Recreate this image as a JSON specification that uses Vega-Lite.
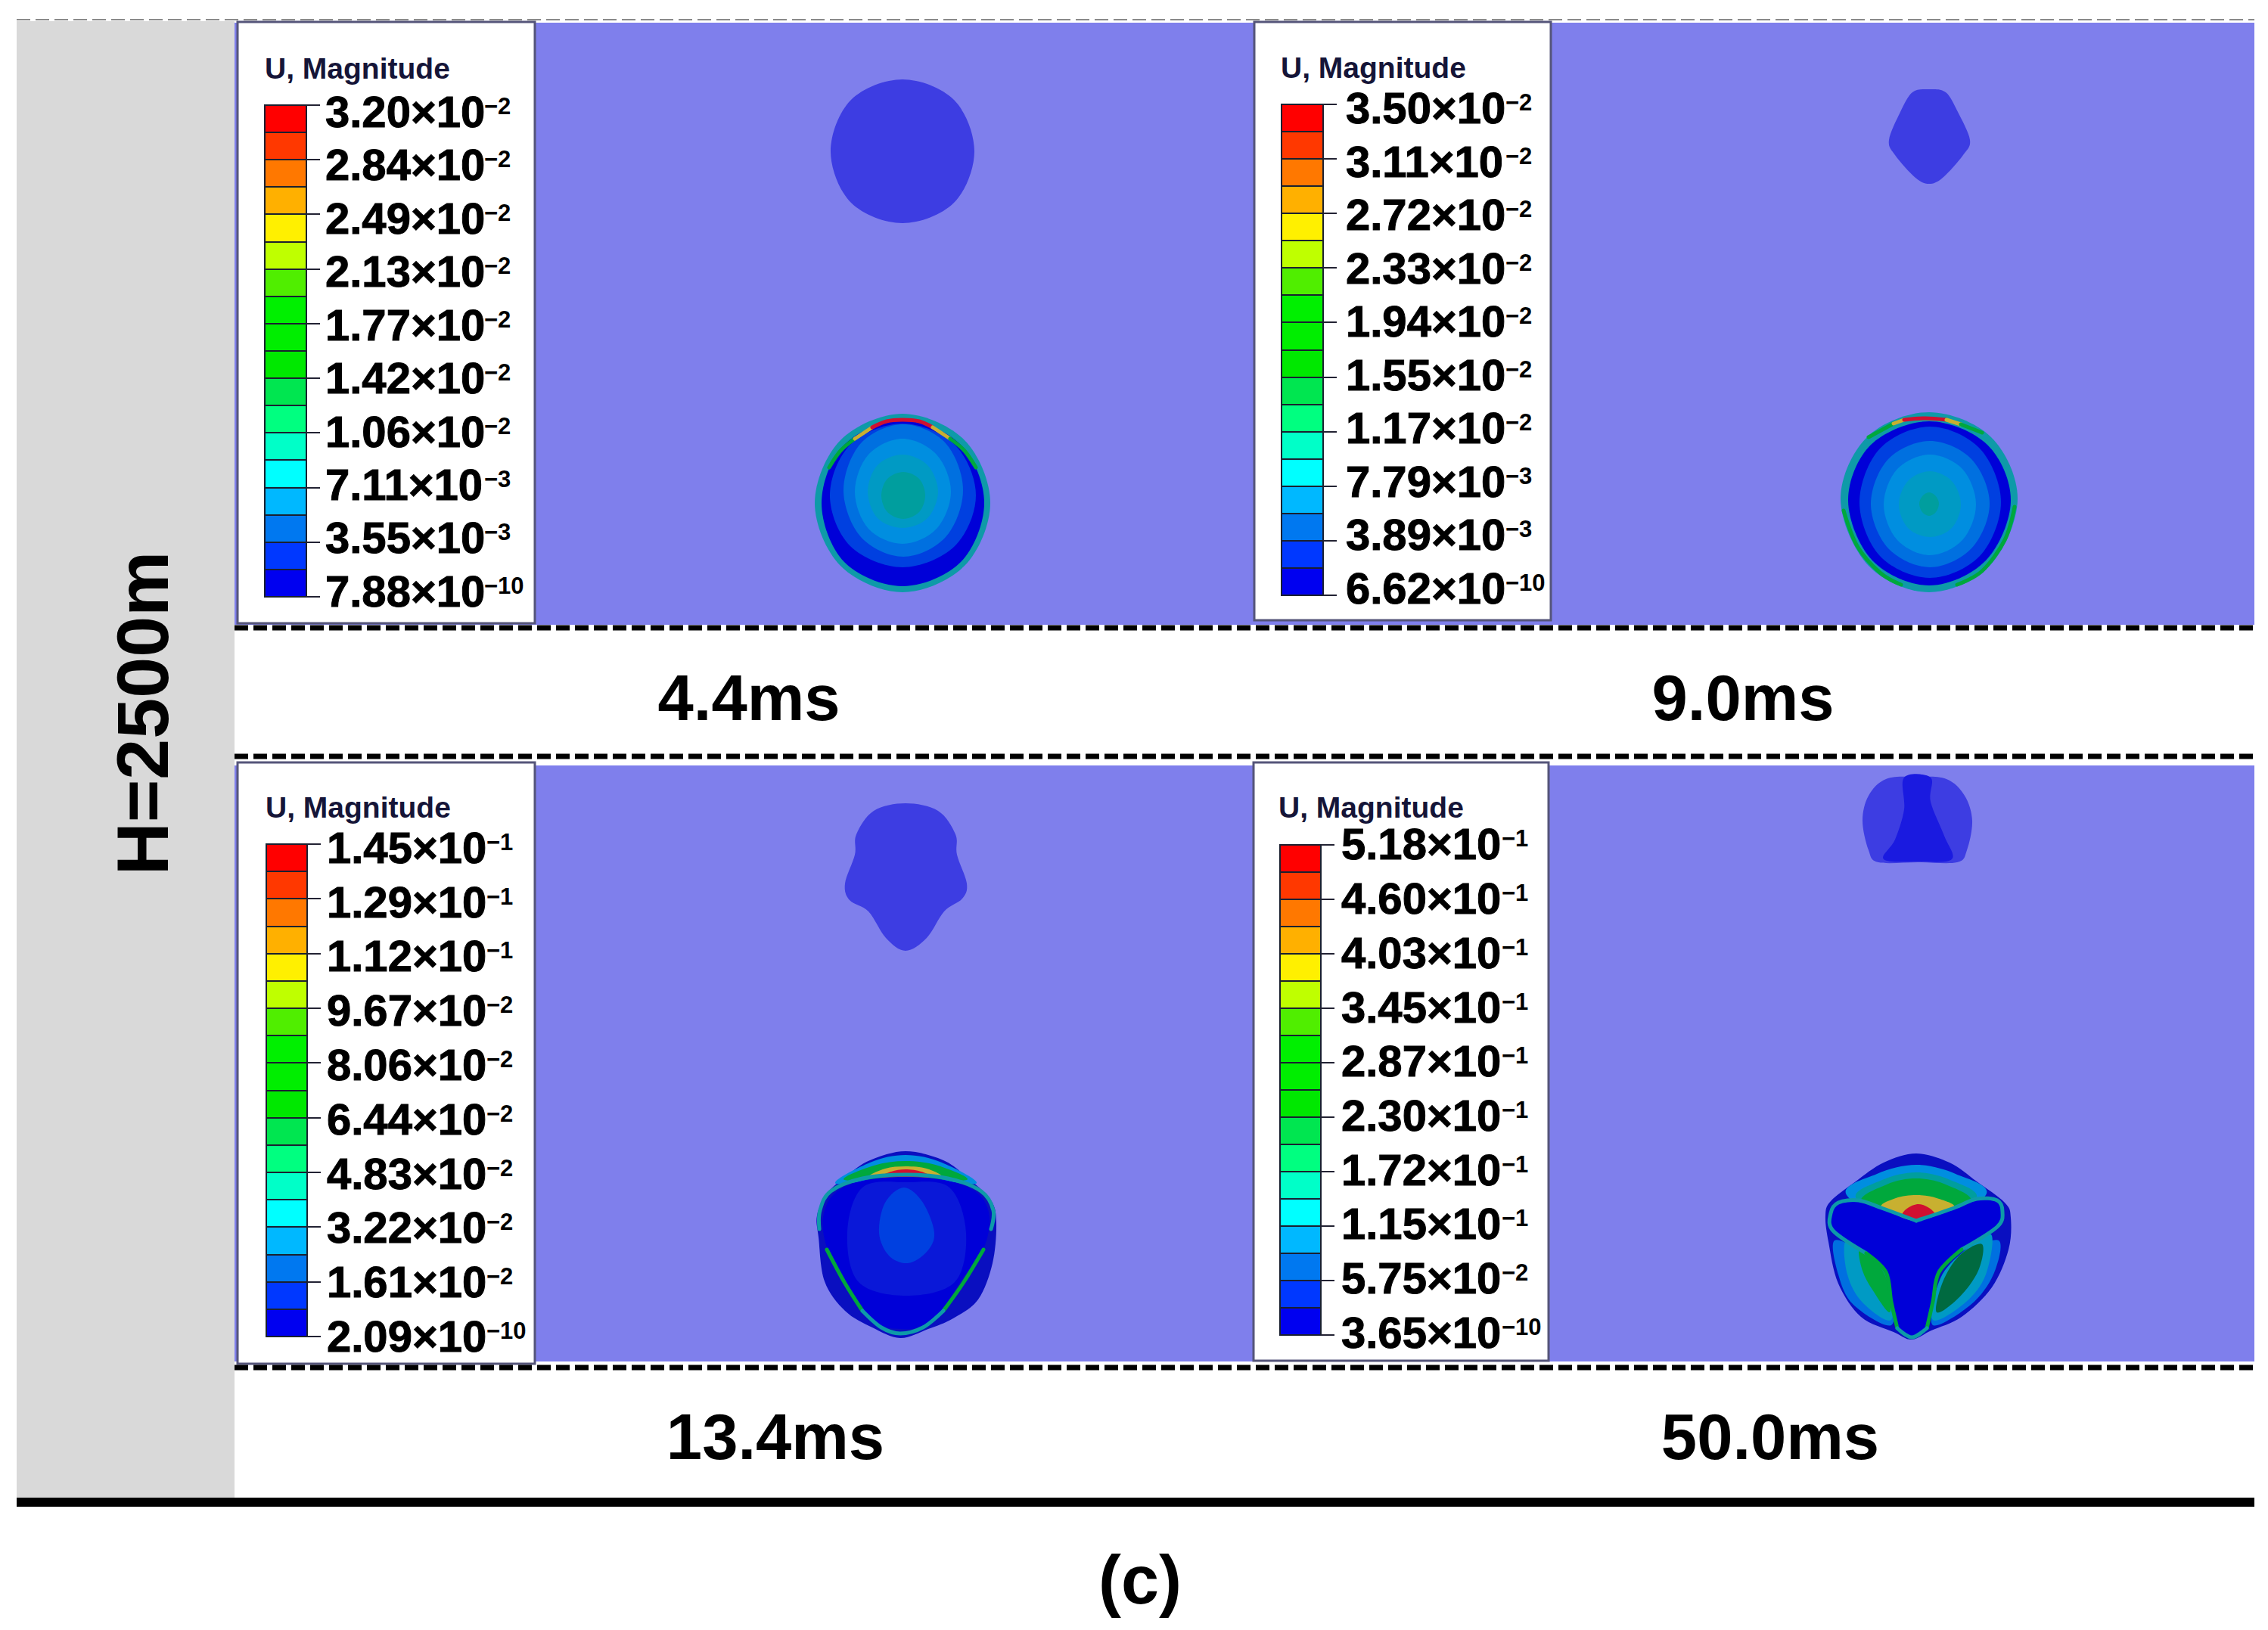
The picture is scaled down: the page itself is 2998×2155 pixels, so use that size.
{
  "$schema": "https://vega.github.io/schema/vega-lite/v6.json",
  "width": 2998,
  "height": 2155,
  "autosize": {"type": "fit", "contains": "padding"},
  "padding": 0,
  "background": "white",
  "config": {"view": {"stroke": null}},
  "datasets": {
    "blocks": [
      {"c": "side", "x": 22, "x2": 310, "y": 28, "y2": 1980},
      {"c": "field", "x": 310, "x2": 2980, "y": 30, "y2": 826},
      {"c": "field", "x": 310, "x2": 2980, "y": 1012, "y2": 1800},
      {"c": "ink", "x": 22, "x2": 2980, "y": 1980, "y2": 1992}
    ],
    "boxes": [
      {"x": 314, "x2": 707, "y": 29, "y2": 824},
      {"x": 1658, "x2": 2050, "y": 29, "y2": 820},
      {"x": 314, "x2": 707, "y": 1008, "y2": 1803},
      {"x": 1657, "x2": 2047, "y": 1008, "y2": 1799}
    ],
    "bands": [
      {"c": "b0", "x": 350, "x2": 405, "y": 139, "y2": 175},
      {"c": "b1", "x": 350, "x2": 405, "y": 175, "y2": 211},
      {"c": "b2", "x": 350, "x2": 405, "y": 211, "y2": 247},
      {"c": "b3", "x": 350, "x2": 405, "y": 247, "y2": 283},
      {"c": "b4", "x": 350, "x2": 405, "y": 283, "y2": 320},
      {"c": "b5", "x": 350, "x2": 405, "y": 320, "y2": 356},
      {"c": "b6", "x": 350, "x2": 405, "y": 356, "y2": 392},
      {"c": "b7", "x": 350, "x2": 405, "y": 392, "y2": 428},
      {"c": "b8", "x": 350, "x2": 405, "y": 428, "y2": 464},
      {"c": "b9", "x": 350, "x2": 405, "y": 464, "y2": 500},
      {"c": "b10", "x": 350, "x2": 405, "y": 500, "y2": 536},
      {"c": "b11", "x": 350, "x2": 405, "y": 536, "y2": 572},
      {"c": "b12", "x": 350, "x2": 405, "y": 572, "y2": 608},
      {"c": "b13", "x": 350, "x2": 405, "y": 608, "y2": 645},
      {"c": "b14", "x": 350, "x2": 405, "y": 645, "y2": 681},
      {"c": "b15", "x": 350, "x2": 405, "y": 681, "y2": 717},
      {"c": "b16", "x": 350, "x2": 405, "y": 717, "y2": 753},
      {"c": "b17", "x": 350, "x2": 405, "y": 753, "y2": 789},
      {"c": "b0", "x": 1694, "x2": 1749, "y": 138, "y2": 174},
      {"c": "b1", "x": 1694, "x2": 1749, "y": 174, "y2": 210},
      {"c": "b2", "x": 1694, "x2": 1749, "y": 210, "y2": 246},
      {"c": "b3", "x": 1694, "x2": 1749, "y": 246, "y2": 282},
      {"c": "b4", "x": 1694, "x2": 1749, "y": 282, "y2": 318},
      {"c": "b5", "x": 1694, "x2": 1749, "y": 318, "y2": 354},
      {"c": "b6", "x": 1694, "x2": 1749, "y": 354, "y2": 390},
      {"c": "b7", "x": 1694, "x2": 1749, "y": 390, "y2": 426},
      {"c": "b8", "x": 1694, "x2": 1749, "y": 426, "y2": 463},
      {"c": "b9", "x": 1694, "x2": 1749, "y": 463, "y2": 499},
      {"c": "b10", "x": 1694, "x2": 1749, "y": 499, "y2": 535},
      {"c": "b11", "x": 1694, "x2": 1749, "y": 535, "y2": 571},
      {"c": "b12", "x": 1694, "x2": 1749, "y": 571, "y2": 607},
      {"c": "b13", "x": 1694, "x2": 1749, "y": 607, "y2": 643},
      {"c": "b14", "x": 1694, "x2": 1749, "y": 643, "y2": 679},
      {"c": "b15", "x": 1694, "x2": 1749, "y": 679, "y2": 715},
      {"c": "b16", "x": 1694, "x2": 1749, "y": 715, "y2": 751},
      {"c": "b17", "x": 1694, "x2": 1749, "y": 751, "y2": 787},
      {"c": "b0", "x": 352, "x2": 406, "y": 1116, "y2": 1152},
      {"c": "b1", "x": 352, "x2": 406, "y": 1152, "y2": 1188},
      {"c": "b2", "x": 352, "x2": 406, "y": 1188, "y2": 1225},
      {"c": "b3", "x": 352, "x2": 406, "y": 1225, "y2": 1261},
      {"c": "b4", "x": 352, "x2": 406, "y": 1261, "y2": 1297},
      {"c": "b5", "x": 352, "x2": 406, "y": 1297, "y2": 1333},
      {"c": "b6", "x": 352, "x2": 406, "y": 1333, "y2": 1369},
      {"c": "b7", "x": 352, "x2": 406, "y": 1369, "y2": 1405},
      {"c": "b8", "x": 352, "x2": 406, "y": 1405, "y2": 1442},
      {"c": "b9", "x": 352, "x2": 406, "y": 1442, "y2": 1478},
      {"c": "b10", "x": 352, "x2": 406, "y": 1478, "y2": 1514},
      {"c": "b11", "x": 352, "x2": 406, "y": 1514, "y2": 1550},
      {"c": "b12", "x": 352, "x2": 406, "y": 1550, "y2": 1586},
      {"c": "b13", "x": 352, "x2": 406, "y": 1586, "y2": 1622},
      {"c": "b14", "x": 352, "x2": 406, "y": 1622, "y2": 1659},
      {"c": "b15", "x": 352, "x2": 406, "y": 1659, "y2": 1695},
      {"c": "b16", "x": 352, "x2": 406, "y": 1695, "y2": 1731},
      {"c": "b17", "x": 352, "x2": 406, "y": 1731, "y2": 1767},
      {"c": "b0", "x": 1692, "x2": 1746, "y": 1117, "y2": 1153},
      {"c": "b1", "x": 1692, "x2": 1746, "y": 1153, "y2": 1189},
      {"c": "b2", "x": 1692, "x2": 1746, "y": 1189, "y2": 1225},
      {"c": "b3", "x": 1692, "x2": 1746, "y": 1225, "y2": 1261},
      {"c": "b4", "x": 1692, "x2": 1746, "y": 1261, "y2": 1297},
      {"c": "b5", "x": 1692, "x2": 1746, "y": 1297, "y2": 1333},
      {"c": "b6", "x": 1692, "x2": 1746, "y": 1333, "y2": 1369},
      {"c": "b7", "x": 1692, "x2": 1746, "y": 1369, "y2": 1405},
      {"c": "b8", "x": 1692, "x2": 1746, "y": 1405, "y2": 1441},
      {"c": "b9", "x": 1692, "x2": 1746, "y": 1441, "y2": 1477},
      {"c": "b10", "x": 1692, "x2": 1746, "y": 1477, "y2": 1513},
      {"c": "b11", "x": 1692, "x2": 1746, "y": 1513, "y2": 1549},
      {"c": "b12", "x": 1692, "x2": 1746, "y": 1549, "y2": 1585},
      {"c": "b13", "x": 1692, "x2": 1746, "y": 1585, "y2": 1621},
      {"c": "b14", "x": 1692, "x2": 1746, "y": 1621, "y2": 1657},
      {"c": "b15", "x": 1692, "x2": 1746, "y": 1657, "y2": 1693},
      {"c": "b16", "x": 1692, "x2": 1746, "y": 1693, "y2": 1729},
      {"c": "b17", "x": 1692, "x2": 1746, "y": 1729, "y2": 1765}
    ],
    "labels": [
      {"m": "3.20×10", "e": "−2", "x": 430, "ex": 640, "y": 168, "tx": 405, "tx2": 423, "ty": 139},
      {"m": "2.84×10", "e": "−2", "x": 430, "ex": 640, "y": 238, "tx": 405, "tx2": 423, "ty": 211},
      {"m": "2.49×10", "e": "−2", "x": 430, "ex": 640, "y": 309, "tx": 405, "tx2": 423, "ty": 283},
      {"m": "2.13×10", "e": "−2", "x": 430, "ex": 640, "y": 379, "tx": 405, "tx2": 423, "ty": 356},
      {"m": "1.77×10", "e": "−2", "x": 430, "ex": 640, "y": 450, "tx": 405, "tx2": 423, "ty": 428},
      {"m": "1.42×10", "e": "−2", "x": 430, "ex": 640, "y": 520, "tx": 405, "tx2": 423, "ty": 500},
      {"m": "1.06×10", "e": "−2", "x": 430, "ex": 640, "y": 591, "tx": 405, "tx2": 423, "ty": 572},
      {"m": "7.11×10", "e": "−3", "x": 430, "ex": 640, "y": 661, "tx": 405, "tx2": 423, "ty": 645},
      {"m": "3.55×10", "e": "−3", "x": 430, "ex": 640, "y": 731, "tx": 405, "tx2": 423, "ty": 717},
      {"m": "7.88×10", "e": "−10", "x": 430, "ex": 640, "y": 802, "tx": 405, "tx2": 423, "ty": 789},
      {"m": "3.50×10", "e": "−2", "x": 1779, "ex": 1990, "y": 163, "tx": 1749, "tx2": 1767, "ty": 138},
      {"m": "3.11×10", "e": "−2", "x": 1779, "ex": 1990, "y": 234, "tx": 1749, "tx2": 1767, "ty": 210},
      {"m": "2.72×10", "e": "−2", "x": 1779, "ex": 1990, "y": 304, "tx": 1749, "tx2": 1767, "ty": 282},
      {"m": "2.33×10", "e": "−2", "x": 1779, "ex": 1990, "y": 375, "tx": 1749, "tx2": 1767, "ty": 354},
      {"m": "1.94×10", "e": "−2", "x": 1779, "ex": 1990, "y": 445, "tx": 1749, "tx2": 1767, "ty": 426},
      {"m": "1.55×10", "e": "−2", "x": 1779, "ex": 1990, "y": 516, "tx": 1749, "tx2": 1767, "ty": 499},
      {"m": "1.17×10", "e": "−2", "x": 1779, "ex": 1990, "y": 586, "tx": 1749, "tx2": 1767, "ty": 571},
      {"m": "7.79×10", "e": "−3", "x": 1779, "ex": 1990, "y": 657, "tx": 1749, "tx2": 1767, "ty": 643},
      {"m": "3.89×10", "e": "−3", "x": 1779, "ex": 1990, "y": 727, "tx": 1749, "tx2": 1767, "ty": 715},
      {"m": "6.62×10", "e": "−10", "x": 1779, "ex": 1990, "y": 798, "tx": 1749, "tx2": 1767, "ty": 787},
      {"m": "1.45×10", "e": "−1", "x": 432, "ex": 643, "y": 1141, "tx": 406, "tx2": 424, "ty": 1116},
      {"m": "1.29×10", "e": "−1", "x": 432, "ex": 643, "y": 1213, "tx": 406, "tx2": 424, "ty": 1188},
      {"m": "1.12×10", "e": "−1", "x": 432, "ex": 643, "y": 1284, "tx": 406, "tx2": 424, "ty": 1261},
      {"m": "9.67×10", "e": "−2", "x": 432, "ex": 643, "y": 1356, "tx": 406, "tx2": 424, "ty": 1333},
      {"m": "8.06×10", "e": "−2", "x": 432, "ex": 643, "y": 1428, "tx": 406, "tx2": 424, "ty": 1405},
      {"m": "6.44×10", "e": "−2", "x": 432, "ex": 643, "y": 1500, "tx": 406, "tx2": 424, "ty": 1478},
      {"m": "4.83×10", "e": "−2", "x": 432, "ex": 643, "y": 1572, "tx": 406, "tx2": 424, "ty": 1550},
      {"m": "3.22×10", "e": "−2", "x": 432, "ex": 643, "y": 1643, "tx": 406, "tx2": 424, "ty": 1622},
      {"m": "1.61×10", "e": "−2", "x": 432, "ex": 643, "y": 1715, "tx": 406, "tx2": 424, "ty": 1695},
      {"m": "2.09×10", "e": "−10", "x": 432, "ex": 643, "y": 1787, "tx": 406, "tx2": 424, "ty": 1767},
      {"m": "5.18×10", "e": "−1", "x": 1773, "ex": 1985, "y": 1136, "tx": 1746, "tx2": 1764, "ty": 1117},
      {"m": "4.60×10", "e": "−1", "x": 1773, "ex": 1985, "y": 1208, "tx": 1746, "tx2": 1764, "ty": 1189},
      {"m": "4.03×10", "e": "−1", "x": 1773, "ex": 1985, "y": 1280, "tx": 1746, "tx2": 1764, "ty": 1261},
      {"m": "3.45×10", "e": "−1", "x": 1773, "ex": 1985, "y": 1352, "tx": 1746, "tx2": 1764, "ty": 1333},
      {"m": "2.87×10", "e": "−1", "x": 1773, "ex": 1985, "y": 1423, "tx": 1746, "tx2": 1764, "ty": 1405},
      {"m": "2.30×10", "e": "−1", "x": 1773, "ex": 1985, "y": 1495, "tx": 1746, "tx2": 1764, "ty": 1477},
      {"m": "1.72×10", "e": "−1", "x": 1773, "ex": 1985, "y": 1567, "tx": 1746, "tx2": 1764, "ty": 1549},
      {"m": "1.15×10", "e": "−1", "x": 1773, "ex": 1985, "y": 1638, "tx": 1746, "tx2": 1764, "ty": 1621},
      {"m": "5.75×10", "e": "−2", "x": 1773, "ex": 1985, "y": 1710, "tx": 1746, "tx2": 1764, "ty": 1693},
      {"m": "3.65×10", "e": "−10", "x": 1773, "ex": 1985, "y": 1782, "tx": 1746, "tx2": 1764, "ty": 1765}
    ],
    "titles": [
      {"t": "U, Magnitude", "x": 350, "y": 104},
      {"t": "U, Magnitude", "x": 1693, "y": 103},
      {"t": "U, Magnitude", "x": 351, "y": 1081},
      {"t": "U, Magnitude", "x": 1690, "y": 1081}
    ],
    "times": [
      {"t": "4.4ms", "x": 990, "y": 952},
      {"t": "9.0ms", "x": 2304, "y": 952},
      {"t": "13.4ms", "x": 1025, "y": 1929},
      {"t": "50.0ms", "x": 2340, "y": 1929}
    ],
    "seps": [
      {"x": 310, "x2": 2980, "y": 830},
      {"x": 310, "x2": 2980, "y": 1000},
      {"x": 310, "x2": 2980, "y": 1808}
    ],
    "shapes": [
      {"s": "a0", "c": "halo", "x": 1193, "y": 105}, {"s": "a0", "c": "halo", "x": 1261, "y": 132}, {"s": "a0", "c": "halo", "x": 1288, "y": 200}, {"s": "a0", "c": "halo", "x": 1261, "y": 268}, {"s": "a0", "c": "halo", "x": 1193, "y": 295}, {"s": "a0", "c": "halo", "x": 1125, "y": 268}, {"s": "a0", "c": "halo", "x": 1098, "y": 200}, {"s": "a0", "c": "halo", "x": 1125, "y": 132},
      {"s": "a1", "c": "ring", "x": 1193, "y": 547}, {"s": "a1", "c": "ring", "x": 1275, "y": 582}, {"s": "a1", "c": "ring", "x": 1309, "y": 665}, {"s": "a1", "c": "ring", "x": 1275, "y": 748}, {"s": "a1", "c": "ring", "x": 1193, "y": 783}, {"s": "a1", "c": "ring", "x": 1111, "y": 748}, {"s": "a1", "c": "ring", "x": 1077, "y": 665}, {"s": "a1", "c": "ring", "x": 1111, "y": 582},
      {"s": "a2", "c": "t0", "x": 1193, "y": 556}, {"s": "a2", "c": "t0", "x": 1270, "y": 588}, {"s": "a2", "c": "t0", "x": 1301, "y": 665}, {"s": "a2", "c": "t0", "x": 1270, "y": 743}, {"s": "a2", "c": "t0", "x": 1193, "y": 775}, {"s": "a2", "c": "t0", "x": 1116, "y": 743}, {"s": "a2", "c": "t0", "x": 1086, "y": 665}, {"s": "a2", "c": "t0", "x": 1116, "y": 588},
      {"s": "a3", "c": "t1", "x": 1193, "y": 560}, {"s": "a3", "c": "t1", "x": 1262, "y": 588}, {"s": "a3", "c": "t1", "x": 1290, "y": 655}, {"s": "a3", "c": "t1", "x": 1262, "y": 722}, {"s": "a3", "c": "t1", "x": 1193, "y": 750}, {"s": "a3", "c": "t1", "x": 1124, "y": 722}, {"s": "a3", "c": "t1", "x": 1097, "y": 655}, {"s": "a3", "c": "t1", "x": 1124, "y": 588},
      {"s": "a4", "c": "t2", "x": 1194, "y": 561}, {"s": "a4", "c": "t2", "x": 1250, "y": 586}, {"s": "a4", "c": "t2", "x": 1273, "y": 648}, {"s": "a4", "c": "t2", "x": 1250, "y": 710}, {"s": "a4", "c": "t2", "x": 1194, "y": 736}, {"s": "a4", "c": "t2", "x": 1138, "y": 710}, {"s": "a4", "c": "t2", "x": 1115, "y": 648}, {"s": "a4", "c": "t2", "x": 1138, "y": 586},
      {"s": "a5", "c": "t3", "x": 1193, "y": 580}, {"s": "a5", "c": "t3", "x": 1238, "y": 601}, {"s": "a5", "c": "t3", "x": 1257, "y": 650}, {"s": "a5", "c": "t3", "x": 1238, "y": 699}, {"s": "a5", "c": "t3", "x": 1193, "y": 719}, {"s": "a5", "c": "t3", "x": 1148, "y": 699}, {"s": "a5", "c": "t3", "x": 1130, "y": 650}, {"s": "a5", "c": "t3", "x": 1148, "y": 601},
      {"s": "a6", "c": "t4", "x": 1193, "y": 601}, {"s": "a6", "c": "t4", "x": 1226, "y": 615}, {"s": "a6", "c": "t4", "x": 1240, "y": 650}, {"s": "a6", "c": "t4", "x": 1226, "y": 685}, {"s": "a6", "c": "t4", "x": 1193, "y": 698}, {"s": "a6", "c": "t4", "x": 1160, "y": 685}, {"s": "a6", "c": "t4", "x": 1147, "y": 650}, {"s": "a6", "c": "t4", "x": 1160, "y": 615},
      {"s": "a7", "c": "t5", "x": 1194, "y": 624}, {"s": "a7", "c": "t5", "x": 1215, "y": 633}, {"s": "a7", "c": "t5", "x": 1223, "y": 655}, {"s": "a7", "c": "t5", "x": 1215, "y": 677}, {"s": "a7", "c": "t5", "x": 1194, "y": 686}, {"s": "a7", "c": "t5", "x": 1173, "y": 677}, {"s": "a7", "c": "t5", "x": 1165, "y": 655}, {"s": "a7", "c": "t5", "x": 1173, "y": 633},

      {"s": "b0", "c": "halo", "x": 2550, "y": 118}, {"s": "b0", "c": "halo", "x": 2572, "y": 122}, {"s": "b0", "c": "halo", "x": 2588, "y": 148}, {"s": "b0", "c": "halo", "x": 2604, "y": 185}, {"s": "b0", "c": "halo", "x": 2595, "y": 205}, {"s": "b0", "c": "halo", "x": 2568, "y": 235}, {"s": "b0", "c": "halo", "x": 2550, "y": 243}, {"s": "b0", "c": "halo", "x": 2532, "y": 235}, {"s": "b0", "c": "halo", "x": 2505, "y": 205}, {"s": "b0", "c": "halo", "x": 2497, "y": 185}, {"s": "b0", "c": "halo", "x": 2512, "y": 148}, {"s": "b0", "c": "halo", "x": 2528, "y": 122},
      {"s": "b1", "c": "ring", "x": 2550, "y": 545}, {"s": "b1", "c": "ring", "x": 2632, "y": 578}, {"s": "b1", "c": "ring", "x": 2667, "y": 660}, {"s": "b1", "c": "ring", "x": 2630, "y": 748}, {"s": "b1", "c": "ring", "x": 2550, "y": 783}, {"s": "b1", "c": "ring", "x": 2470, "y": 748}, {"s": "b1", "c": "ring", "x": 2433, "y": 660}, {"s": "b1", "c": "ring", "x": 2468, "y": 578},
      {"s": "b2", "c": "t0", "x": 2550, "y": 557}, {"s": "b2", "c": "t0", "x": 2627, "y": 588}, {"s": "b2", "c": "t0", "x": 2658, "y": 662}, {"s": "b2", "c": "t0", "x": 2625, "y": 741}, {"s": "b2", "c": "t0", "x": 2550, "y": 774}, {"s": "b2", "c": "t0", "x": 2475, "y": 741}, {"s": "b2", "c": "t0", "x": 2443, "y": 662}, {"s": "b2", "c": "t0", "x": 2473, "y": 588},
      {"s": "b3", "c": "t1", "x": 2551, "y": 564}, {"s": "b3", "c": "t1", "x": 2617, "y": 593}, {"s": "b3", "c": "t1", "x": 2645, "y": 664}, {"s": "b3", "c": "t1", "x": 2617, "y": 735}, {"s": "b3", "c": "t1", "x": 2551, "y": 764}, {"s": "b3", "c": "t1", "x": 2485, "y": 735}, {"s": "b3", "c": "t1", "x": 2458, "y": 664}, {"s": "b3", "c": "t1", "x": 2485, "y": 593},
      {"s": "b4", "c": "t2", "x": 2551, "y": 583}, {"s": "b4", "c": "t2", "x": 2606, "y": 607}, {"s": "b4", "c": "t2", "x": 2630, "y": 666}, {"s": "b4", "c": "t2", "x": 2606, "y": 725}, {"s": "b4", "c": "t2", "x": 2551, "y": 750}, {"s": "b4", "c": "t2", "x": 2496, "y": 725}, {"s": "b4", "c": "t2", "x": 2473, "y": 666}, {"s": "b4", "c": "t2", "x": 2496, "y": 607},
      {"s": "b5", "c": "t3", "x": 2551, "y": 601}, {"s": "b5", "c": "t3", "x": 2594, "y": 620}, {"s": "b5", "c": "t3", "x": 2612, "y": 667}, {"s": "b5", "c": "t3", "x": 2594, "y": 714}, {"s": "b5", "c": "t3", "x": 2551, "y": 734}, {"s": "b5", "c": "t3", "x": 2508, "y": 714}, {"s": "b5", "c": "t3", "x": 2490, "y": 667}, {"s": "b5", "c": "t3", "x": 2508, "y": 620},
      {"s": "b6", "c": "t4", "x": 2551, "y": 623}, {"s": "b6", "c": "t4", "x": 2580, "y": 636}, {"s": "b6", "c": "t4", "x": 2592, "y": 667}, {"s": "b6", "c": "t4", "x": 2580, "y": 698}, {"s": "b6", "c": "t4", "x": 2551, "y": 710}, {"s": "b6", "c": "t4", "x": 2522, "y": 698}, {"s": "b6", "c": "t4", "x": 2510, "y": 667}, {"s": "b6", "c": "t4", "x": 2522, "y": 636},
      {"s": "b7", "c": "t5", "x": 2550, "y": 651}, {"s": "b7", "c": "t5", "x": 2559, "y": 656}, {"s": "b7", "c": "t5", "x": 2563, "y": 666}, {"s": "b7", "c": "t5", "x": 2559, "y": 677}, {"s": "b7", "c": "t5", "x": 2550, "y": 682}, {"s": "b7", "c": "t5", "x": 2541, "y": 677}, {"s": "b7", "c": "t5", "x": 2537, "y": 666}, {"s": "b7", "c": "t5", "x": 2541, "y": 656},

      {"s": "c0", "c": "halo", "x": 1197, "y": 1062}, {"s": "c0", "c": "halo", "x": 1240, "y": 1072}, {"s": "c0", "c": "halo", "x": 1263, "y": 1103}, {"s": "c0", "c": "halo", "x": 1265, "y": 1130}, {"s": "c0", "c": "halo", "x": 1278, "y": 1168}, {"s": "c0", "c": "halo", "x": 1272, "y": 1188}, {"s": "c0", "c": "halo", "x": 1248, "y": 1205}, {"s": "c0", "c": "halo", "x": 1225, "y": 1240}, {"s": "c0", "c": "halo", "x": 1197, "y": 1257}, {"s": "c0", "c": "halo", "x": 1171, "y": 1240}, {"s": "c0", "c": "halo", "x": 1148, "y": 1205}, {"s": "c0", "c": "halo", "x": 1123, "y": 1190}, {"s": "c0", "c": "halo", "x": 1117, "y": 1168}, {"s": "c0", "c": "halo", "x": 1130, "y": 1130}, {"s": "c0", "c": "halo", "x": 1132, "y": 1103}, {"s": "c0", "c": "halo", "x": 1155, "y": 1072},
      {"s": "c1", "c": "tdark", "x": 1197, "y": 1522}, {"s": "c1", "c": "tdark", "x": 1247, "y": 1534}, {"s": "c1", "c": "tdark", "x": 1280, "y": 1558}, {"s": "c1", "c": "tdark", "x": 1310, "y": 1587}, {"s": "c1", "c": "tdark", "x": 1317, "y": 1617}, {"s": "c1", "c": "tdark", "x": 1312, "y": 1670}, {"s": "c1", "c": "tdark", "x": 1293, "y": 1718}, {"s": "c1", "c": "tdark", "x": 1260, "y": 1743}, {"s": "c1", "c": "tdark", "x": 1227, "y": 1757}, {"s": "c1", "c": "tdark", "x": 1190, "y": 1769}, {"s": "c1", "c": "tdark", "x": 1153, "y": 1755}, {"s": "c1", "c": "tdark", "x": 1117, "y": 1733}, {"s": "c1", "c": "tdark", "x": 1090, "y": 1694}, {"s": "c1", "c": "tdark", "x": 1082, "y": 1636}, {"s": "c1", "c": "tdark", "x": 1080, "y": 1607}, {"s": "c1", "c": "tdark", "x": 1093, "y": 1578}, {"s": "c1", "c": "tdark", "x": 1120, "y": 1554}, {"s": "c1", "c": "tdark", "x": 1150, "y": 1534},
      {"s": "c2", "c": "t3", "x": 1197, "y": 1527}, {"s": "c2", "c": "t3", "x": 1245, "y": 1537}, {"s": "c2", "c": "t3", "x": 1290, "y": 1565}, {"s": "c2", "c": "t3", "x": 1197, "y": 1556}, {"s": "c2", "c": "t3", "x": 1105, "y": 1565}, {"s": "c2", "c": "t3", "x": 1150, "y": 1537},
      {"s": "c3", "c": "tgreen", "x": 1197, "y": 1535}, {"s": "c3", "c": "tgreen", "x": 1240, "y": 1541}, {"s": "c3", "c": "tgreen", "x": 1278, "y": 1560}, {"s": "c3", "c": "tgreen", "x": 1197, "y": 1557}, {"s": "c3", "c": "tgreen", "x": 1116, "y": 1560}, {"s": "c3", "c": "tgreen", "x": 1155, "y": 1541},
      {"s": "c4", "c": "tyellow", "x": 1197, "y": 1542}, {"s": "c4", "c": "tyellow", "x": 1225, "y": 1545}, {"s": "c4", "c": "tyellow", "x": 1244, "y": 1556}, {"s": "c4", "c": "tyellow", "x": 1197, "y": 1556}, {"s": "c4", "c": "tyellow", "x": 1150, "y": 1556}, {"s": "c4", "c": "tyellow", "x": 1170, "y": 1545},
      {"s": "c5", "c": "tred", "x": 1197, "y": 1546}, {"s": "c5", "c": "tred", "x": 1218, "y": 1549}, {"s": "c5", "c": "tred", "x": 1230, "y": 1556}, {"s": "c5", "c": "tred", "x": 1197, "y": 1556}, {"s": "c5", "c": "tred", "x": 1164, "y": 1556}, {"s": "c5", "c": "tred", "x": 1178, "y": 1549},
      {"s": "c6", "c": "t0", "x": 1197, "y": 1556}, {"s": "c6", "c": "t0", "x": 1253, "y": 1561}, {"s": "c6", "c": "t0", "x": 1293, "y": 1578}, {"s": "c6", "c": "t0", "x": 1308, "y": 1609}, {"s": "c6", "c": "t0", "x": 1300, "y": 1651}, {"s": "c6", "c": "t0", "x": 1273, "y": 1689}, {"s": "c6", "c": "t0", "x": 1240, "y": 1738}, {"s": "c6", "c": "t0", "x": 1213, "y": 1755}, {"s": "c6", "c": "t0", "x": 1190, "y": 1757}, {"s": "c6", "c": "t0", "x": 1163, "y": 1752}, {"s": "c6", "c": "t0", "x": 1140, "y": 1728}, {"s": "c6", "c": "t0", "x": 1110, "y": 1680}, {"s": "c6", "c": "t0", "x": 1092, "y": 1646}, {"s": "c6", "c": "t0", "x": 1088, "y": 1609}, {"s": "c6", "c": "t0", "x": 1103, "y": 1578}, {"s": "c6", "c": "t0", "x": 1140, "y": 1561},
      {"s": "c7", "c": "t01", "x": 1198, "y": 1563}, {"s": "c7", "c": "t01", "x": 1255, "y": 1570}, {"s": "c7", "c": "t01", "x": 1277, "y": 1630}, {"s": "c7", "c": "t01", "x": 1262, "y": 1695}, {"s": "c7", "c": "t01", "x": 1198, "y": 1713}, {"s": "c7", "c": "t01", "x": 1135, "y": 1695}, {"s": "c7", "c": "t01", "x": 1120, "y": 1630}, {"s": "c7", "c": "t01", "x": 1140, "y": 1570},
      {"s": "c8", "c": "t1", "x": 1195, "y": 1570}, {"s": "c8", "c": "t1", "x": 1220, "y": 1590}, {"s": "c8", "c": "t1", "x": 1235, "y": 1630}, {"s": "c8", "c": "t1", "x": 1225, "y": 1655}, {"s": "c8", "c": "t1", "x": 1200, "y": 1670}, {"s": "c8", "c": "t1", "x": 1175, "y": 1660}, {"s": "c8", "c": "t1", "x": 1162, "y": 1630}, {"s": "c8", "c": "t1", "x": 1170, "y": 1590},

      {"s": "d0", "c": "halo", "x": 2533, "y": 1027}, {"s": "d0", "c": "halo", "x": 2573, "y": 1030}, {"s": "d0", "c": "halo", "x": 2597, "y": 1052}, {"s": "d0", "c": "halo", "x": 2607, "y": 1085}, {"s": "d0", "c": "halo", "x": 2600, "y": 1124}, {"s": "d0", "c": "halo", "x": 2587, "y": 1140}, {"s": "d0", "c": "halo", "x": 2535, "y": 1140}, {"s": "d0", "c": "halo", "x": 2483, "y": 1140}, {"s": "d0", "c": "halo", "x": 2470, "y": 1124}, {"s": "d0", "c": "halo", "x": 2462, "y": 1085}, {"s": "d0", "c": "halo", "x": 2470, "y": 1052}, {"s": "d0", "c": "halo", "x": 2493, "y": 1030},
      {"s": "d1", "c": "core", "x": 2517, "y": 1028}, {"s": "d1", "c": "core", "x": 2552, "y": 1028}, {"s": "d1", "c": "core", "x": 2552, "y": 1060}, {"s": "d1", "c": "core", "x": 2570, "y": 1105}, {"s": "d1", "c": "core", "x": 2580, "y": 1136}, {"s": "d1", "c": "core", "x": 2535, "y": 1139}, {"s": "d1", "c": "core", "x": 2490, "y": 1136}, {"s": "d1", "c": "core", "x": 2505, "y": 1110}, {"s": "d1", "c": "core", "x": 2517, "y": 1070},
      {"s": "d2", "c": "tdark", "x": 2533, "y": 1525}, {"s": "d2", "c": "tdark", "x": 2577, "y": 1537}, {"s": "d2", "c": "tdark", "x": 2613, "y": 1562}, {"s": "d2", "c": "tdark", "x": 2650, "y": 1590}, {"s": "d2", "c": "tdark", "x": 2658, "y": 1610}, {"s": "d2", "c": "tdark", "x": 2655, "y": 1652}, {"s": "d2", "c": "tdark", "x": 2633, "y": 1702}, {"s": "d2", "c": "tdark", "x": 2593, "y": 1741}, {"s": "d2", "c": "tdark", "x": 2553, "y": 1759}, {"s": "d2", "c": "tdark", "x": 2527, "y": 1771}, {"s": "d2", "c": "tdark", "x": 2503, "y": 1761}, {"s": "d2", "c": "tdark", "x": 2460, "y": 1741}, {"s": "d2", "c": "tdark", "x": 2430, "y": 1697}, {"s": "d2", "c": "tdark", "x": 2417, "y": 1642}, {"s": "d2", "c": "tdark", "x": 2413, "y": 1607}, {"s": "d2", "c": "tdark", "x": 2420, "y": 1588}, {"s": "d2", "c": "tdark", "x": 2453, "y": 1562}, {"s": "d2", "c": "tdark", "x": 2490, "y": 1537},
      {"s": "d3", "c": "t3", "x": 2533, "y": 1540}, {"s": "d3", "c": "t3", "x": 2585, "y": 1552}, {"s": "d3", "c": "t3", "x": 2625, "y": 1580}, {"s": "d3", "c": "t3", "x": 2533, "y": 1630}, {"s": "d3", "c": "t3", "x": 2441, "y": 1580}, {"s": "d3", "c": "t3", "x": 2481, "y": 1552},
      {"s": "d4", "c": "t5", "x": 2533, "y": 1550}, {"s": "d4", "c": "t5", "x": 2578, "y": 1560}, {"s": "d4", "c": "t5", "x": 2612, "y": 1585}, {"s": "d4", "c": "t5", "x": 2533, "y": 1625}, {"s": "d4", "c": "t5", "x": 2454, "y": 1585}, {"s": "d4", "c": "t5", "x": 2488, "y": 1560},
      {"s": "d5", "c": "tgreen", "x": 2533, "y": 1558}, {"s": "d5", "c": "tgreen", "x": 2572, "y": 1566}, {"s": "d5", "c": "tgreen", "x": 2605, "y": 1590}, {"s": "d5", "c": "tgreen", "x": 2533, "y": 1622}, {"s": "d5", "c": "tgreen", "x": 2461, "y": 1590}, {"s": "d5", "c": "tgreen", "x": 2494, "y": 1566},
      {"s": "d6", "c": "tyellow", "x": 2533, "y": 1580}, {"s": "d6", "c": "tyellow", "x": 2560, "y": 1584}, {"s": "d6", "c": "tyellow", "x": 2583, "y": 1597}, {"s": "d6", "c": "tyellow", "x": 2533, "y": 1616}, {"s": "d6", "c": "tyellow", "x": 2487, "y": 1597}, {"s": "d6", "c": "tyellow", "x": 2506, "y": 1584},
      {"s": "d7", "c": "tred", "x": 2536, "y": 1592}, {"s": "d7", "c": "tred", "x": 2550, "y": 1597}, {"s": "d7", "c": "tred", "x": 2557, "y": 1607}, {"s": "d7", "c": "tred", "x": 2535, "y": 1615}, {"s": "d7", "c": "tred", "x": 2515, "y": 1607}, {"s": "d7", "c": "tred", "x": 2522, "y": 1597},
      {"s": "d13", "c": "t2", "x": 2425, "y": 1640}, {"s": "d13", "c": "t2", "x": 2465, "y": 1660}, {"s": "d13", "c": "t2", "x": 2498, "y": 1700}, {"s": "d13", "c": "t2", "x": 2500, "y": 1752}, {"s": "d13", "c": "t2", "x": 2450, "y": 1725}, {"s": "d13", "c": "t2", "x": 2430, "y": 1685},
      {"s": "d8", "c": "t4", "x": 2440, "y": 1640}, {"s": "d8", "c": "t4", "x": 2470, "y": 1658}, {"s": "d8", "c": "t4", "x": 2495, "y": 1690}, {"s": "d8", "c": "t4", "x": 2500, "y": 1745}, {"s": "d8", "c": "t4", "x": 2462, "y": 1722}, {"s": "d8", "c": "t4", "x": 2442, "y": 1685},
      {"s": "d9", "c": "tgreen", "x": 2458, "y": 1652}, {"s": "d9", "c": "tgreen", "x": 2480, "y": 1668}, {"s": "d9", "c": "tgreen", "x": 2495, "y": 1695}, {"s": "d9", "c": "tgreen", "x": 2498, "y": 1735}, {"s": "d9", "c": "tgreen", "x": 2475, "y": 1705}, {"s": "d9", "c": "tgreen", "x": 2462, "y": 1680},
      {"s": "d14", "c": "t2", "x": 2642, "y": 1640}, {"s": "d14", "c": "t2", "x": 2595, "y": 1660}, {"s": "d14", "c": "t2", "x": 2565, "y": 1700}, {"s": "d14", "c": "t2", "x": 2555, "y": 1752}, {"s": "d14", "c": "t2", "x": 2605, "y": 1725}, {"s": "d14", "c": "t2", "x": 2635, "y": 1685},
      {"s": "d10", "c": "t4", "x": 2632, "y": 1632}, {"s": "d10", "c": "t4", "x": 2595, "y": 1655}, {"s": "d10", "c": "t4", "x": 2565, "y": 1690}, {"s": "d10", "c": "t4", "x": 2555, "y": 1745}, {"s": "d10", "c": "t4", "x": 2598, "y": 1722}, {"s": "d10", "c": "t4", "x": 2625, "y": 1685},
      {"s": "d11", "c": "tdeep", "x": 2620, "y": 1645}, {"s": "d11", "c": "tdeep", "x": 2590, "y": 1660}, {"s": "d11", "c": "tdeep", "x": 2568, "y": 1695}, {"s": "d11", "c": "tdeep", "x": 2560, "y": 1735}, {"s": "d11", "c": "tdeep", "x": 2590, "y": 1715}, {"s": "d11", "c": "tdeep", "x": 2615, "y": 1680},
      {"s": "d12", "c": "t0", "x": 2533, "y": 1614}, {"s": "d12", "c": "t0", "x": 2487, "y": 1597}, {"s": "d12", "c": "t0", "x": 2457, "y": 1587}, {"s": "d12", "c": "t0", "x": 2430, "y": 1590}, {"s": "d12", "c": "t0", "x": 2420, "y": 1604}, {"s": "d12", "c": "t0", "x": 2423, "y": 1627}, {"s": "d12", "c": "t0", "x": 2467, "y": 1657}, {"s": "d12", "c": "t0", "x": 2493, "y": 1682}, {"s": "d12", "c": "t0", "x": 2500, "y": 1721}, {"s": "d12", "c": "t0", "x": 2508, "y": 1756}, {"s": "d12", "c": "t0", "x": 2527, "y": 1766}, {"s": "d12", "c": "t0", "x": 2547, "y": 1756}, {"s": "d12", "c": "t0", "x": 2555, "y": 1721}, {"s": "d12", "c": "t0", "x": 2563, "y": 1682}, {"s": "d12", "c": "t0", "x": 2593, "y": 1652}, {"s": "d12", "c": "t0", "x": 2640, "y": 1622}, {"s": "d12", "c": "t0", "x": 2647, "y": 1602}, {"s": "d12", "c": "t0", "x": 2640, "y": 1587}, {"s": "d12", "c": "t0", "x": 2613, "y": 1585}, {"s": "d12", "c": "t0", "x": 2583, "y": 1597}
    ],
    "arcs": [
      {"s": "a10", "c": "tgreen", "x": 1096, "y": 618}, {"s": "a10", "c": "tgreen", "x": 1111, "y": 596}, {"s": "a10", "c": "tgreen", "x": 1130, "y": 580},
      {"s": "a11", "c": "tyellow", "x": 1130, "y": 580}, {"s": "a11", "c": "tyellow", "x": 1153, "y": 565},
      {"s": "a12", "c": "tred", "x": 1153, "y": 565}, {"s": "a12", "c": "tred", "x": 1172, "y": 557}, {"s": "a12", "c": "tred", "x": 1193, "y": 555}, {"s": "a12", "c": "tred", "x": 1215, "y": 557}, {"s": "a12", "c": "tred", "x": 1233, "y": 565},
      {"s": "a13", "c": "tyellow", "x": 1233, "y": 565}, {"s": "a13", "c": "tyellow", "x": 1256, "y": 580},
      {"s": "a14", "c": "tgreen", "x": 1256, "y": 580}, {"s": "a14", "c": "tgreen", "x": 1275, "y": 596}, {"s": "a14", "c": "tgreen", "x": 1290, "y": 618},

      {"s": "b10", "c": "tgreen", "x": 2470, "y": 578}, {"s": "b10", "c": "tgreen", "x": 2503, "y": 560},
      {"s": "b11", "c": "tyellow", "x": 2503, "y": 560}, {"s": "b11", "c": "tyellow", "x": 2517, "y": 555},
      {"s": "b12", "c": "tred", "x": 2517, "y": 555}, {"s": "b12", "c": "tred", "x": 2545, "y": 553}, {"s": "b12", "c": "tred", "x": 2573, "y": 555},
      {"s": "b13", "c": "tyellow", "x": 2573, "y": 555}, {"s": "b13", "c": "tyellow", "x": 2592, "y": 561},
      {"s": "b14", "c": "tgreen", "x": 2592, "y": 561}, {"s": "b14", "c": "tgreen", "x": 2620, "y": 572},
      {"s": "b15", "c": "tgreen", "x": 2437, "y": 675}, {"s": "b15", "c": "tgreen", "x": 2455, "y": 722}, {"s": "b15", "c": "tgreen", "x": 2485, "y": 757}, {"s": "b15", "c": "tgreen", "x": 2513, "y": 773},
      {"s": "b16", "c": "tgreen", "x": 2587, "y": 773}, {"s": "b16", "c": "tgreen", "x": 2620, "y": 755}, {"s": "b16", "c": "tgreen", "x": 2650, "y": 714}, {"s": "b16", "c": "tgreen", "x": 2663, "y": 670},

      {"s": "c10", "c": "ring", "x": 1083, "y": 1625}, {"s": "c10", "c": "ring", "x": 1084, "y": 1600}, {"s": "c10", "c": "ring", "x": 1098, "y": 1575}, {"s": "c10", "c": "ring", "x": 1140, "y": 1558}, {"s": "c10", "c": "ring", "x": 1197, "y": 1553}, {"s": "c10", "c": "ring", "x": 1253, "y": 1558}, {"s": "c10", "c": "ring", "x": 1297, "y": 1575}, {"s": "c10", "c": "ring", "x": 1313, "y": 1600}, {"s": "c10", "c": "ring", "x": 1310, "y": 1625},
      {"s": "c11", "c": "tgreen", "x": 1093, "y": 1652}, {"s": "c11", "c": "tgreen", "x": 1116, "y": 1695}, {"s": "c11", "c": "tgreen", "x": 1140, "y": 1733},
      {"s": "c12", "c": "tgreen", "x": 1300, "y": 1652}, {"s": "c12", "c": "tgreen", "x": 1274, "y": 1695}, {"s": "c12", "c": "tgreen", "x": 1247, "y": 1733},
      {"s": "c13", "c": "ring", "x": 1140, "y": 1733}, {"s": "c13", "c": "ring", "x": 1165, "y": 1755}, {"s": "c13", "c": "ring", "x": 1190, "y": 1763}, {"s": "c13", "c": "ring", "x": 1220, "y": 1755}, {"s": "c13", "c": "ring", "x": 1247, "y": 1733},

      {"s": "d20", "c": "ring", "x": 2533, "y": 1614}, {"s": "d20", "c": "ring", "x": 2487, "y": 1597}, {"s": "d20", "c": "ring", "x": 2457, "y": 1587}, {"s": "d20", "c": "ring", "x": 2430, "y": 1590}, {"s": "d20", "c": "ring", "x": 2420, "y": 1604}, {"s": "d20", "c": "ring", "x": 2423, "y": 1627}, {"s": "d20", "c": "ring", "x": 2467, "y": 1657},
      {"s": "d21", "c": "ring", "x": 2533, "y": 1614}, {"s": "d21", "c": "ring", "x": 2583, "y": 1597}, {"s": "d21", "c": "ring", "x": 2613, "y": 1585}, {"s": "d21", "c": "ring", "x": 2640, "y": 1587}, {"s": "d21", "c": "ring", "x": 2647, "y": 1602}, {"s": "d21", "c": "ring", "x": 2640, "y": 1622}, {"s": "d21", "c": "ring", "x": 2593, "y": 1652},
      {"s": "d22", "c": "tgreen", "x": 2467, "y": 1657}, {"s": "d22", "c": "tgreen", "x": 2493, "y": 1682}, {"s": "d22", "c": "tgreen", "x": 2500, "y": 1721}, {"s": "d22", "c": "tgreen", "x": 2508, "y": 1756},
      {"s": "d23", "c": "tgreen", "x": 2593, "y": 1652}, {"s": "d23", "c": "tgreen", "x": 2563, "y": 1682}, {"s": "d23", "c": "tgreen", "x": 2555, "y": 1721}, {"s": "d23", "c": "tgreen", "x": 2547, "y": 1756},
      {"s": "d24", "c": "ring", "x": 2508, "y": 1756}, {"s": "d24", "c": "ring", "x": 2527, "y": 1768}, {"s": "d24", "c": "ring", "x": 2547, "y": 1756}
    ]
  },
  "encoding": {
    "x": {"field": "x", "type": "quantitative", "axis": null, "scale": {"domain": [0, 2998], "nice": false, "zero": false}},
    "y": {"field": "y", "type": "quantitative", "axis": null, "scale": {"domain": [2155, 0], "nice": false, "zero": false}},
    "color": {
      "field": "c",
      "type": "nominal",
      "legend": null,
      "scale": {
        "domain": ["side", "field", "ink", "b0", "b1", "b2", "b3", "b4", "b5", "b6", "b7", "b8", "b9", "b10", "b11", "b12", "b13", "b14", "b15", "b16", "b17", "halo", "core", "ring", "t0", "t01", "t1", "t2", "t3", "t4", "t5", "tdark", "tgreen", "tdeep", "tyellow", "tred"],
        "range": ["#d9d9d9", "#7f7fec", "#000000", "#ff0000", "#ff3800", "#ff7800", "#ffb000", "#fff000", "#bfff00", "#50ee00", "#00f000", "#00ee00", "#00e800", "#00e650", "#00ff80", "#00ffc8", "#00ffff", "#00b8ff", "#0078f0", "#0038ff", "#0000f0", "#3d3de2", "#1a1ae0", "#0e9aa8", "#0000d8", "#0a18d8", "#0040e0", "#0070e0", "#008ee0", "#009ac4", "#009e9e", "#0a0fc0", "#00a83c", "#006a40", "#c8b030", "#d01030"]
      }
    }
  },
  "layer": [
    {"data": {"name": "blocks"}, "mark": {"type": "rect"}, "encoding": {"x2": {"field": "x2"}, "y2": {"field": "y2"}}},
    {"data": {"name": "shapes"}, "mark": {"type": "line", "filled": true, "interpolate": "cardinal-closed", "order": false}, "encoding": {"detail": {"field": "s"}}},
    {"data": {"name": "arcs"}, "mark": {"type": "line", "interpolate": "cardinal", "order": false, "strokeWidth": 5, "strokeCap": "round"}, "encoding": {"detail": {"field": "s"}}},
    {"data": {"name": "boxes"}, "mark": {"type": "rect", "fill": "white", "stroke": "#55557a", "strokeWidth": 3}, "encoding": {"x2": {"field": "x2"}, "y2": {"field": "y2"}, "color": {"value": "white"}}},
    {"data": {"name": "bands"}, "mark": {"type": "rect", "stroke": "#1a2030", "strokeWidth": 2}, "encoding": {"x2": {"field": "x2"}, "y2": {"field": "y2"}}},
    {"data": {"name": "labels"}, "mark": {"type": "rule", "strokeWidth": 2}, "encoding": {
      "x": {"field": "tx", "type": "quantitative", "axis": null, "scale": {"domain": [0, 2998], "nice": false, "zero": false}},
      "x2": {"field": "tx2"},
      "y": {"field": "ty", "type": "quantitative", "axis": null, "scale": {"domain": [2155, 0], "nice": false, "zero": false}},
      "color": {"value": "#222233"}
    }},
    {"data": {"name": "labels"}, "mark": {"type": "text", "align": "left", "baseline": "alphabetic", "font": "Liberation Sans", "fontWeight": "bold", "fontSize": 58, "stroke": "black", "strokeWidth": 1}, "encoding": {"text": {"field": "m"}, "color": {"value": "black"}}},
    {"data": {"name": "labels"}, "mark": {"type": "text", "align": "left", "baseline": "alphabetic", "font": "Liberation Sans", "fontWeight": "bold", "fontSize": 31, "dy": -17}, "encoding": {
      "x": {"field": "ex", "type": "quantitative", "axis": null, "scale": {"domain": [0, 2998], "nice": false, "zero": false}},
      "text": {"field": "e"},
      "color": {"value": "black"}
    }},
    {"data": {"name": "titles"}, "mark": {"type": "text", "align": "left", "baseline": "alphabetic", "font": "Liberation Sans", "fontWeight": "bold", "fontSize": 39}, "encoding": {"text": {"field": "t"}, "color": {"value": "#151538"}}},
    {"data": {"name": "seps"}, "mark": {"type": "rule", "strokeWidth": 7, "strokeDash": [18, 7]}, "encoding": {"x2": {"field": "x2"}, "color": {"value": "black"}}},
    {"data": {"values": [{"x": 22, "x2": 2980, "y": 26}]}, "mark": {"type": "rule", "strokeWidth": 2, "strokeDash": [18, 7]}, "encoding": {"x2": {"field": "x2"}, "color": {"value": "#8a8a8a"}}},
    {"data": {"name": "times"}, "mark": {"type": "text", "align": "center", "baseline": "alphabetic", "font": "Liberation Sans", "fontWeight": "bold", "fontSize": 85}, "encoding": {"text": {"field": "t"}, "color": {"value": "black"}}},
    {"data": {"values": [{"t": "H=2500m", "x": 222, "y": 943}]}, "mark": {"type": "text", "align": "center", "baseline": "alphabetic", "angle": 270, "font": "Liberation Sans", "fontWeight": "bold", "fontSize": 97}, "encoding": {"text": {"field": "t"}, "color": {"value": "black"}}},
    {"data": {"values": [{"t": "(c)", "x": 1507, "y": 2120}]}, "mark": {"type": "text", "align": "center", "baseline": "alphabetic", "font": "Liberation Sans", "fontWeight": "bold", "fontSize": 90}, "encoding": {"text": {"field": "t"}, "color": {"value": "black"}}}
  ]
}
